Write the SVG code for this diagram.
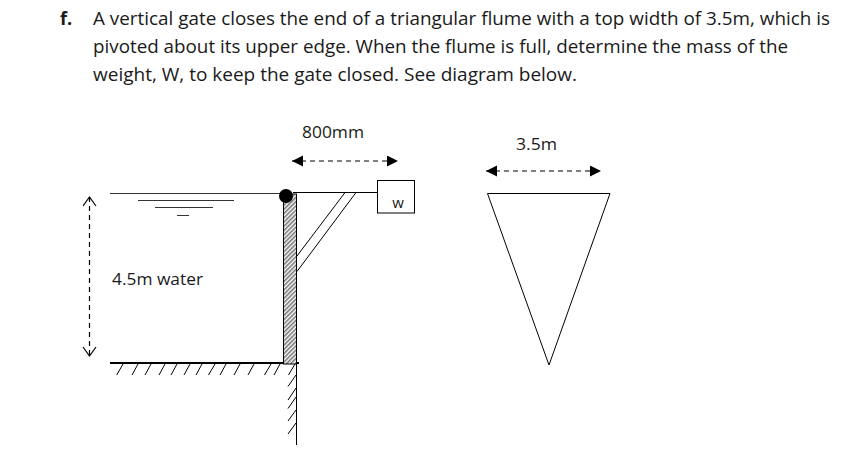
<svg xmlns="http://www.w3.org/2000/svg" width="856" height="463" viewBox="0 0 856 463">
<style>
text{font-family:"Open Sans","Noto Sans","Liberation Sans",sans-serif;fill:#1a1a1a}
.q{font-size:18px}
.l{font-size:17px}
.k{fill:none;stroke:#000;stroke-width:1}
.d{fill:none;stroke:#000;stroke-width:1.2;stroke-dasharray:5 4}
.g{stroke:#000;stroke-width:1;fill:none}
</style>
<defs>
<pattern id="h" width="3" height="3" patternUnits="userSpaceOnUse" patternTransform="rotate(45)">
<rect width="3" height="3" fill="#fff"/><rect width="1.6" height="3" fill="#777"/>
</pattern>
<marker id="s" markerWidth="12" markerHeight="12" refX="11" refY="5.500" orient="auto-start-reverse" markerUnits="userSpaceOnUse"><path d="M0 0L11 5.500L0 11Z" fill="#000"/></marker>
<marker id="o" markerWidth="12" markerHeight="16" refX="10" refY="7" orient="auto-start-reverse" markerUnits="userSpaceOnUse"><path d="M1 0.500L10 7L1 13.500" fill="none" stroke="#000" stroke-width="1.200"/></marker>
</defs>
<rect width="856" height="463" fill="#fff"/>
<g id="question">
<text x="60" y="25" class="q" font-weight="700">f.</text>
<text x="93" y="25" class="q" textLength="737" lengthAdjust="spacingAndGlyphs">A vertical gate closes the end of a triangular flume with a top width of 3.5m, which is</text>
<text x="93" y="53" class="q" textLength="695" lengthAdjust="spacingAndGlyphs">pivoted about its upper edge. When the flume is full, determine the mass of the</text>
<text x="93" y="81" class="q" textLength="484" lengthAdjust="spacingAndGlyphs">weight, W, to keep the gate closed. See diagram below.</text>
</g>
<g id="connectors">
<path class="d" d="M89.500 197V356" marker-start="url(#o)" marker-end="url(#o)"/>
<path class="d" d="M292 161H398" marker-start="url(#s)" marker-end="url(#s)"/>
<path class="d" d="M486 171H601" marker-start="url(#s)" marker-end="url(#s)"/>
</g>
<g id="water">
<path stroke="#333" stroke-width="1" fill="none" d="M110 193.500H285M138 200.500H234M155 207.500H213M177 215.500H189"/>
<text x="112" y="285" class="l" textLength="91" lengthAdjust="spacingAndGlyphs">4.5m water</text>
</g>
<g id="ground">
<path stroke="#000" stroke-width="2" fill="none" d="M110 363H299"/>
<path class="k" d="M296.500 363V445"/>
<path class="g" d="M116.700 375L123 364M132 375L138 364M145 375L151 364M159 375L165 364M171 375L177 364M184 375L190 364M196 375L202 364M208.500 375L215 364M220 375L226 364M234 375L240 364M248 375L254 364M264.500 375L271 364M274 375L280 364M288.500 375L295 364"/>
<path class="g" d="M288 386.500L296 375M288 400L296 388M288 408.500L296 397M288 421L296 410M288 434L296 423"/>
</g>
<g id="gate">
<rect x="283.500" y="194" width="13" height="170" fill="url(#h)" stroke="#000"/>
<circle cx="286" cy="196" r="7" fill="#000"/>
</g>
<g id="arm">
<path class="k" d="M293 192.500H378M345 192.500L297 256M356 192.500L297 271.500"/>
</g>
<g id="weight">
<rect x="377.500" y="180.500" width="37" height="32.500" fill="#fff" stroke="#000"/>
<text x="398" y="208" text-anchor="middle" style="font-size:15px">w</text>
</g>
<g id="flume">
<path class="k" d="M487.500 193.500H610L549 365Z"/>
<text x="302" y="138" class="l" textLength="62" lengthAdjust="spacingAndGlyphs">800mm</text>
<text x="516" y="150" class="l" textLength="41" lengthAdjust="spacingAndGlyphs">3.5m</text>
</g>
</svg>
